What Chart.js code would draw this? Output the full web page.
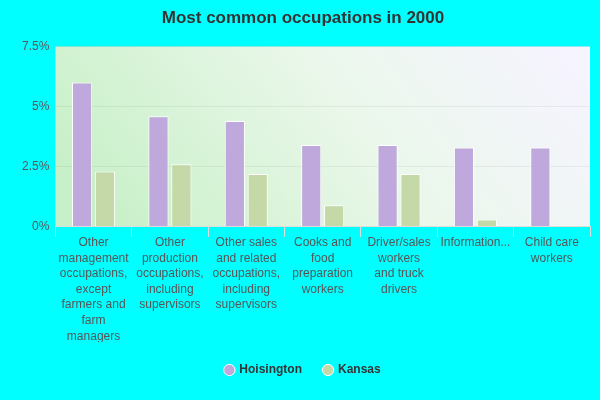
<!DOCTYPE html>
<html>
<head>
<script src="https://cdn.jsdelivr.net/npm/chart.js@4"></script>
<style>
  html, body { margin: 0; padding: 0; background: #00ffff; }
  #wrap { width: 600px; height: 400px; }
</style>
</head>
<body>
<div id="wrap"><canvas id="chart"></canvas></div>
<script>
var categories = [
  ['Other', 'management', 'occupations,', 'except', 'farmers and', 'farm', 'managers'],
  ['Other', 'production', 'occupations,', 'including', 'supervisors'],
  ['Other sales', 'and related', 'occupations,', 'including', 'supervisors'],
  ['Cooks and', 'food', 'preparation', 'workers'],
  ['Driver/sales', 'workers', 'and truck', 'drivers'],
  ['Information...'],
  ['Child care', 'workers']
];
var hoisington = [6.0, 4.6, 4.4, 3.4, 3.4, 3.3, 3.3];
var kansas = [2.3, 2.6, 2.2, 0.9, 2.2, 0.3, 0.05];
var yTicks = [0, 2.5, 5, 7.5];

var areaBackground = {
  id: 'areaBackground',
  beforeDraw: function(chart) {
    var a = chart.chartArea, c = chart.ctx;
    var g = c.createLinearGradient(a.left + 100, a.bottom + 60, a.right - 60, a.top - 40);
    g.addColorStop(0, '#c8f0c8');
    g.addColorStop(0.55, '#eaf7ea');
    g.addColorStop(1, '#f6f4ff');
    c.save();
    c.fillStyle = g;
    c.fillRect(a.left, a.top, a.right - a.left, a.bottom - a.top);
    c.restore();
  }
};

new Chart(document.getElementById('chart').getContext('2d'), {
  type: 'bar',
  data: {
    labels: categories,
    datasets: [{
      label: 'Hoisington',
      data: hoisington,
      backgroundColor: '#bfa8db',
      borderColor: '#ffffff',
      borderWidth: 1
    }, {
      label: 'Kansas',
      data: kansas,
      backgroundColor: '#c5d9a8',
      borderColor: '#ffffff',
      borderWidth: 1
    }]
  },
  options: {
    responsive: true,
    maintainAspectRatio: false,
    animation: false,
    layout: { padding: { left: 16, right: 10, top: 0, bottom: 14 } },
    datasets: { bar: { categoryPercentage: 0.6, barPercentage: 0.88 } },
    scales: {
      x: {
        grid: { display: true, drawOnChartArea: false, offset: true, tickLength: 10, color: '#dddddd' },
        border: { color: '#dddddd' },
        ticks: { color: '#555555', font: { family: 'Arial', size: 12, lineHeight: 1.3 }, maxRotation: 0, autoSkip: false, padding: -2 }
      },
      y: {
        min: 0,
        max: 7.5,
        afterBuildTicks: function(axis) { axis.ticks = yTicks.map(function(v) { return { value: v }; }); },
        grid: { color: 'rgba(0,0,0,0.05)', drawTicks: false },
        border: { display: false },
        ticks: {
          color: '#555555', font: { family: 'Arial', size: 12 }, padding: 6,
          callback: function(v) { return v + '%'; }
        }
      }
    },
    plugins: {
      title: {
        display: true,
        text: 'Most common occupations in 2000',
        color: '#333333',
        font: { family: 'Arial', size: 17, weight: 'bold' },
        padding: { top: 8, bottom: 18 }
      },
      legend: {
        position: 'bottom',
        labels: {
          usePointStyle: true, pointStyle: 'circle', boxWidth: 8, boxHeight: 8,
          color: '#333333', font: { family: 'Arial', size: 12, weight: 'bold' }, padding: 22
        }
      },
      tooltip: { enabled: false }
    }
  },
  plugins: [areaBackground]
});
</script>
</body>
</html>
